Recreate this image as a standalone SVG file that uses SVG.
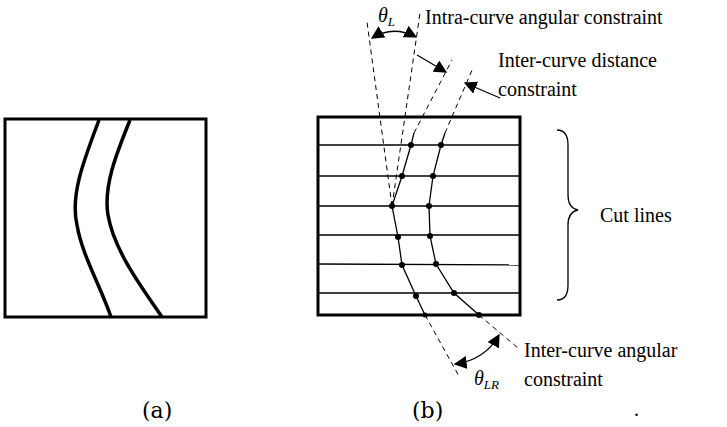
<svg xmlns="http://www.w3.org/2000/svg" width="727" height="427" viewBox="0 0 727 427">
<defs>
<style>
.box{fill:none;stroke:#000;stroke-width:3}
.thin{fill:none;stroke:#000;stroke-width:1.3}
.dash{fill:none;stroke:#000;stroke-width:1;stroke-dasharray:5,4}
.curve{fill:none;stroke:#000;stroke-width:3.5}
.t{font-family:"Liberation Serif","Times New Roman","DejaVu Serif",serif;font-size:20px;fill:#000}
.lab{font-family:"DejaVu Serif",serif;font-size:22px;fill:#000}
</style>
<marker id="ah" viewBox="0 0 10 10" refX="9" refY="5" markerWidth="9" markerHeight="9" markerUnits="userSpaceOnUse" orient="auto-start-reverse"><path d="M0,0L10,5L0,10z" fill="#000"/></marker>
<marker id="ahb" viewBox="0 0 10 10" refX="9" refY="5" markerWidth="13" markerHeight="13" markerUnits="userSpaceOnUse" orient="auto-start-reverse"><path d="M0,0L10,5L0,10z" fill="#000"/></marker>
</defs>
<rect width="727" height="427" fill="#fff"/>
<g id="panel-a">
<rect class="box" x="5" y="119" width="201" height="198"/>
<path class="curve" d="M99,120 C84,160 70,195 77,225 C82,255 100,285 111,317"/>
<path class="curve" d="M130,120 C118,150 103,185 108,215 C114,250 140,285 162,317"/>
<text class="lab" x="142" y="418">(a)</text>
</g>
<g id="panel-b">
<rect class="box" x="318" y="117" width="202" height="198"/>
<g class="thin">
<line x1="318" y1="145" x2="520" y2="145"/><line x1="318" y1="176" x2="520" y2="176"/>
<line x1="318" y1="206" x2="520" y2="206"/><line x1="318" y1="235" x2="520" y2="235"/>
<line x1="318" y1="264" x2="520" y2="265"/><line x1="318" y1="293" x2="520" y2="293"/>
</g>
</g>
<g id="curves">
<polyline class="thin" points="414,133 411,145 402,176 392,206 398,237 402,265 416,296 425,315"/>
<polyline class="thin" points="445,133 441,145 433,176 429,206 430,236 436,264 454,293 479,315"/>
<g fill="#000">
<circle cx="411" cy="145" r="3"/><circle cx="402" cy="176" r="3"/><circle cx="392" cy="206" r="3"/><circle cx="398" cy="237" r="3"/><circle cx="402" cy="265" r="3"/><circle cx="416" cy="296" r="3"/><circle cx="425" cy="315" r="2.5"/>
<circle cx="441" cy="145" r="3"/><circle cx="433" cy="176" r="3"/><circle cx="429" cy="206" r="3"/><circle cx="430" cy="236" r="3"/><circle cx="436" cy="264" r="3"/><circle cx="454" cy="293" r="3"/><circle cx="479" cy="315" r="3"/>
</g>
</g>
<g id="connectors">
<line class="dash" x1="414" y1="133" x2="452" y2="60"/>
<line class="dash" x1="445" y1="133" x2="473" y2="68"/>
<line class="dash" x1="392" y1="206" x2="367" y2="22"/>
<line class="dash" x1="392" y1="206" x2="420" y2="13"/>
<line class="dash" x1="425" y1="315" x2="460" y2="378"/>
<line class="dash" x1="479" y1="315" x2="518" y2="348"/>
<path class="thin" d="M372,38 Q393,25 416,37" stroke-width="1.5" marker-start="url(#ahb)" marker-end="url(#ahb)"/>
<line class="thin" x1="417" y1="55" x2="446" y2="72" stroke-width="1.5" marker-end="url(#ahb)"/>
<line class="thin" x1="500" y1="98" x2="465" y2="83" stroke-width="1.5" marker-end="url(#ahb)"/>
<path class="thin" d="M455,364 Q485,360 499,335" stroke-width="1.5" marker-start="url(#ahb)" marker-end="url(#ahb)"/>
<path class="thin" d="M557,130 Q568,130 568,145 L568,195 Q568,208 578,210 Q568,212 568,225 L568,285 Q568,300 557,300" stroke-width="1.3"/>
</g>
<g id="labels">
<text class="t" x="378" y="22" font-style="italic" font-size="24">θ<tspan font-size="13" dy="4">L</tspan></text>
<text class="t" x="425" y="24">Intra-curve angular constraint</text>
<text class="t" x="498" y="67">Inter-curve distance</text>
<text class="t" x="498" y="96">constraint</text>
<text class="t" x="600" y="222">Cut lines</text>
<text class="t" x="524" y="357">Inter-curve angular</text>
<text class="t" x="524" y="386">constraint</text>
<text class="t" x="474" y="385" font-style="italic" font-size="24">θ<tspan font-size="13" dy="4">LR</tspan></text>
<text class="lab" x="412" y="418">(b)</text>
<text class="t" x="634" y="416">.</text>
</g>
</svg>
